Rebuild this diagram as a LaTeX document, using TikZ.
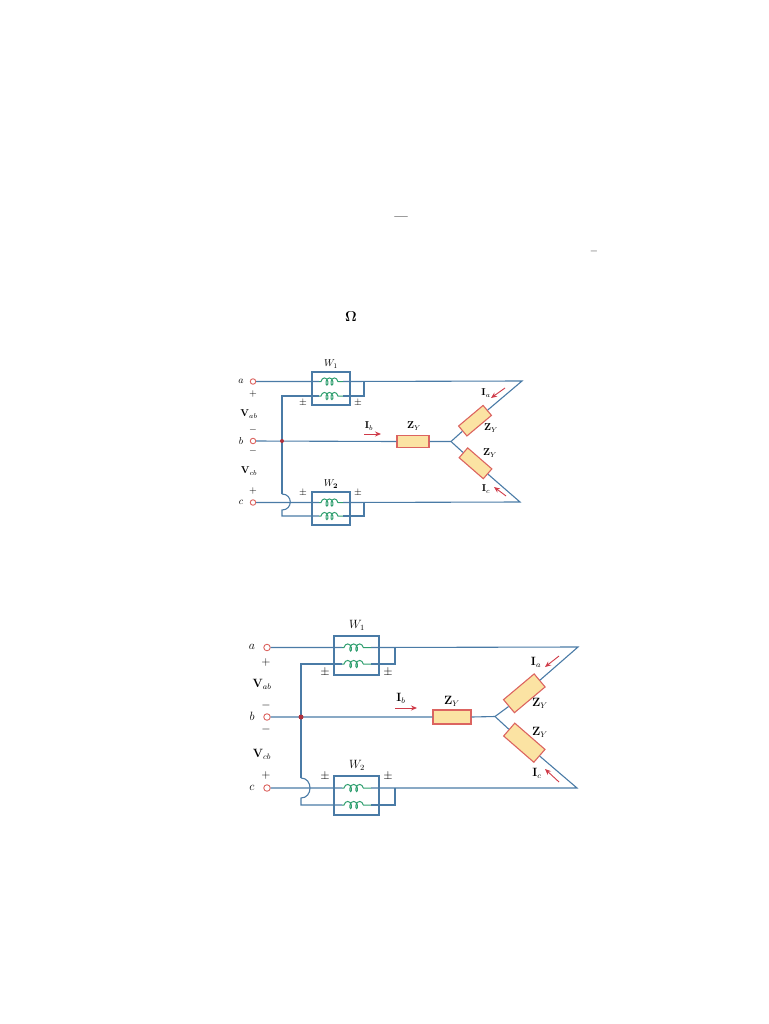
\documentclass[tikz,border=0pt]{standalone}
\usepackage{amsmath}
\usetikzlibrary{calc}
\usetikzlibrary{arrows.meta}
\usetikzlibrary{decorations.pathmorphing}

\definecolor{wireblue}{HTML}{4A7BA6}
\definecolor{coilgreen}{HTML}{2E9E6E}
\definecolor{zfill}{HTML}{FBE3A3}
\definecolor{zline}{HTML}{DC6460}
\definecolor{arrowred}{HTML}{CF3A48}

\tikzset{
  wire/.style={wireblue,line width=1.1},
  coilwire/.style={coilgreen,line width=1,decorate,
    decoration={coil,aspect=0.6,amplitude=3.6,segment length=#1,pre length=2,post length=2}},
  wattbox/.style={draw=wireblue,line width=1.1,inner sep=0},
  terminal/.style={circle,draw=zline,fill=white,line width=0.9,inner sep=0,minimum size=#1},
  zbox/.style={draw=zline,fill=zfill,line width=1.1,inner sep=0},
  curarrow/.style={arrowred,line width=0.9,-{Stealth[length=6,width=5]}},
  junction/.style={circle,fill=arrowred!85!black,inner sep=0,minimum size=#1},
  smalllab/.style={inner sep=0,text=black,font=\fontsize{10}{11}\selectfont},
  biglab/.style={inner sep=0,text=black,font=\fontsize{12}{13}\selectfont}
}

\begin{document}
\begin{tikzpicture}[x=1pt,y=-1pt]
\useasboundingbox (0,0) rectangle (768,1024);

% stray marks above the figures
\node[inner sep=0,font=\bfseries\fontsize{12}{12}\selectfont] (dashone) at (401,219) {---};
\node[inner sep=0,font=\bfseries\fontsize{11}{12}\selectfont] (dashtwo) at (594,253) {--};
\node[inner sep=0,font=\fontsize{14}{15}\selectfont] (omega) at (351,317) {$\mathbf{\Omega}$};

% upper figure
\coordinate (endA) at (522,381);
\coordinate (endC) at (520,502);
\coordinate (star) at (451,441.5);
\coordinate (dotTop) at (282,396);
\coordinate (hopIn) at (282,494);
\coordinate (hopOut) at (282,510);
\coordinate (retC) at (282,516);
\coordinate (linkA) at (364,381.5);
\coordinate (linkAb) at (364,396);
\coordinate (linkC) at (364,502.5);
\coordinate (linkCb) at (364,516);
\coordinate (coilAi) at (319,381.5);
\coordinate (coilAo) at (343,381.5);
\coordinate (coilBi) at (319,396);
\coordinate (coilBo) at (343,396);
\coordinate (coilCi) at (319,502.5);
\coordinate (coilCo) at (343,502.5);
\coordinate (coilDi) at (319,516);
\coordinate (coilDo) at (343,516);

\node[terminal=5.5] (termA) at (253,381.5) {};
\node[terminal=5.5] (termB) at (253,441) {};
\node[terminal=5.5] (termC) at (253,502.5) {};
\node[wattbox,minimum width=38,minimum height=33] (boxW) at (331,388.5) {};
\node[wattbox,minimum width=38,minimum height=33] (boxX) at (331,508.5) {};
\node[zbox,minimum width=32,minimum height=12] (zB) at (413,441.5) {};
\node[zbox,minimum width=32,minimum height=13,rotate=40] (zA) at (475,420.7) {};
\node[zbox,minimum width=32,minimum height=13,rotate=-41] (zC) at (475.5,463.3) {};

\draw[wire] (termA)--(coilAi) (coilAo)--(endA)--(zA.east) (zA.west)--(star);
\draw[wire] (termC)--(coilCi) (coilCo)--(endC)--(zC.east) (zC.west)--(star);
\draw[wire] (termB)--(zB.west) (zB.east)--(star);
\draw[wire] (linkA)--(linkAb)--(coilBo) (coilBi)--(dotTop)--(hopIn);
\draw[wire] (hopIn) .. controls (293,494) and (293,510) .. (hopOut)--(retC)--(coilDi);
\draw[wire] (coilDo)--(linkCb)--(linkC);
\node[junction=4] (dotB) at (282,441) {};

\draw[coilwire=5] (coilAi)--(coilAo);
\draw[coilwire=5] (coilBi)--(coilBo);
\draw[coilwire=5] (coilCi)--(coilCo);
\draw[coilwire=5] (coilDi)--(coilDo);

\coordinate (ibS) at (364,434);
\coordinate (ibE) at (381,434);
\coordinate (iaS) at (505,388);
\coordinate (iaE) at (491,398);
\coordinate (icS) at (506,496);
\coordinate (icE) at (494,487);
\draw[curarrow] (ibS)--(ibE);
\draw[curarrow] (iaS)--(iaE);
\draw[curarrow] (icS)--(icE);

\node[smalllab] (labW) at (331,364) {$W_1$};
\node[smalllab] (labX) at (331,484) {$W_{\mathbf 2}$};
\node[smalllab] (laba) at (241,381) {$a$};
\node[smalllab] (labb) at (241,441) {$b$};
\node[smalllab] (labc) at (241,502) {$c$};
\node[smalllab] (labp) at (253,394) {$+$};
\node[smalllab] (labVab) at (249,414) {$\mathbf{V}_{ab}$};
\node[smalllab] (labm) at (253,430) {$-$};
\node[smalllab] (labn) at (253,451) {$-$};
\node[smalllab] (labVcb) at (249,471) {$\mathbf{V}_{cb}$};
\node[smalllab] (labq) at (253,491) {$+$};
\node[smalllab] (pmA) at (303,403) {$\pm$};
\node[smalllab] (pmB) at (358,403) {$\pm$};
\node[smalllab] (pmC) at (303,493) {$\pm$};
\node[smalllab] (pmD) at (358,493) {$\pm$};
\node[smalllab] (labIb) at (369,426) {$\mathbf{I}_b$};
\node[smalllab] (labIa) at (486,393) {$\mathbf{I}_a$};
\node[smalllab] (labIc) at (486,489) {$\mathbf{I}_c$};
\node[smalllab] (labZb) at (414,426) {$\mathbf{Z}_Y$};
\node[smalllab] (labZa) at (491,428) {$\mathbf{Z}_Y$};
\node[smalllab] (labZc) at (490,453) {$\mathbf{Z}_Y$};

% lower figure
\coordinate (end2A) at (578,647);
\coordinate (end2C) at (577,788);
\coordinate (star2) at (495,716.5);
\coordinate (dot2Top) at (301,664);
\coordinate (hop2In) at (301,778);
\coordinate (hop2Out) at (301,798);
\coordinate (ret2C) at (301,805);
\coordinate (link2A) at (395,647.5);
\coordinate (link2Ab) at (395,664);
\coordinate (link2C) at (395,788);
\coordinate (link2Cb) at (395,805);
\coordinate (coil2Ai) at (342,647.5);
\coordinate (coil2Ao) at (371,647.5);
\coordinate (coil2Bi) at (342,664);
\coordinate (coil2Bo) at (371,664);
\coordinate (coil2Ci) at (342,788);
\coordinate (coil2Co) at (371,788);
\coordinate (coil2Di) at (342,805);
\coordinate (coil2Do) at (371,805);

\node[terminal=6.5] (term2A) at (267,647.5) {};
\node[terminal=6.5] (term2B) at (267,717) {};
\node[terminal=6.5] (term2C) at (267,788) {};
\node[wattbox,minimum width=45,minimum height=39] (box2W) at (356.5,655.5) {};
\node[wattbox,minimum width=45,minimum height=39] (box2X) at (356.5,795.5) {};
\node[zbox,minimum width=38,minimum height=14] (z2B) at (452,717) {};
\node[zbox,minimum width=40,minimum height=17,rotate=40] (z2A) at (524.3,693.3) {};
\node[zbox,minimum width=40,minimum height=17,rotate=-41] (z2C) at (524.3,742.7) {};

\draw[wire] (term2A)--(coil2Ai) (coil2Ao)--(end2A)--(z2A.east) (z2A.west)--(star2);
\draw[wire] (term2C)--(coil2Ci) (coil2Co)--(end2C)--(z2C.east) (z2C.west)--(star2);
\draw[wire] (term2B)--(z2B.west) (z2B.east)--(star2);
\draw[wire] (link2A)--(link2Ab)--(coil2Bo) (coil2Bi)--(dot2Top)--(hop2In);
\draw[wire] (hop2In) .. controls (313,778) and (313,798) .. (hop2Out)--(ret2C)--(coil2Di);
\draw[wire] (coil2Do)--(link2Cb)--(link2C);
\node[junction=5] (dot2B) at (301,717) {};

\draw[coilwire=6] (coil2Ai)--(coil2Ao);
\draw[coilwire=6] (coil2Bi)--(coil2Bo);
\draw[coilwire=6] (coil2Ci)--(coil2Co);
\draw[coilwire=6] (coil2Di)--(coil2Do);

\coordinate (ib2S) at (395,708);
\coordinate (ib2E) at (417,708);
\coordinate (ia2S) at (559,656);
\coordinate (ia2E) at (545,667);
\coordinate (ic2S) at (559,782);
\coordinate (ic2E) at (545,769);
\draw[curarrow] (ib2S)--(ib2E);
\draw[curarrow] (ia2S)--(ia2E);
\draw[curarrow] (ic2S)--(ic2E);

\node[biglab] (lab2W) at (357,625) {$W_1$};
\node[biglab] (lab2X) at (357,765) {$W_2$};
\node[biglab] (lab2a) at (252,647) {$a$};
\node[biglab] (lab2b) at (252,716) {$b$};
\node[biglab] (lab2c) at (252,788) {$c$};
\node[biglab] (lab2p) at (266,662) {$+$};
\node[biglab] (lab2Vab) at (262,684) {$\mathbf{V}_{ab}$};
\node[biglab] (lab2m) at (266,705) {$-$};
\node[biglab] (lab2n) at (266,729) {$-$};
\node[biglab] (lab2Vcb) at (262,754) {$\mathbf{V}_{cb}$};
\node[biglab] (lab2q) at (266,775) {$+$};
\node[biglab] (pm2A) at (325,672) {$\pm$};
\node[biglab] (pm2B) at (388,672) {$\pm$};
\node[biglab] (pm2C) at (325,776) {$\pm$};
\node[biglab] (pm2D) at (388,776) {$\pm$};
\node[biglab] (lab2Ib) at (401,698) {$\mathbf{I}_b$};
\node[biglab] (lab2Ia) at (536,662) {$\mathbf{I}_a$};
\node[biglab] (lab2Ic) at (537,773) {$\mathbf{I}_c$};
\node[biglab] (lab2Zb) at (452,701) {$\mathbf{Z}_Y$};
\node[biglab] (lab2Za) at (540,703) {$\mathbf{Z}_Y$};
\node[biglab] (lab2Zc) at (540,732) {$\mathbf{Z}_Y$};

\end{tikzpicture}
\end{document}
